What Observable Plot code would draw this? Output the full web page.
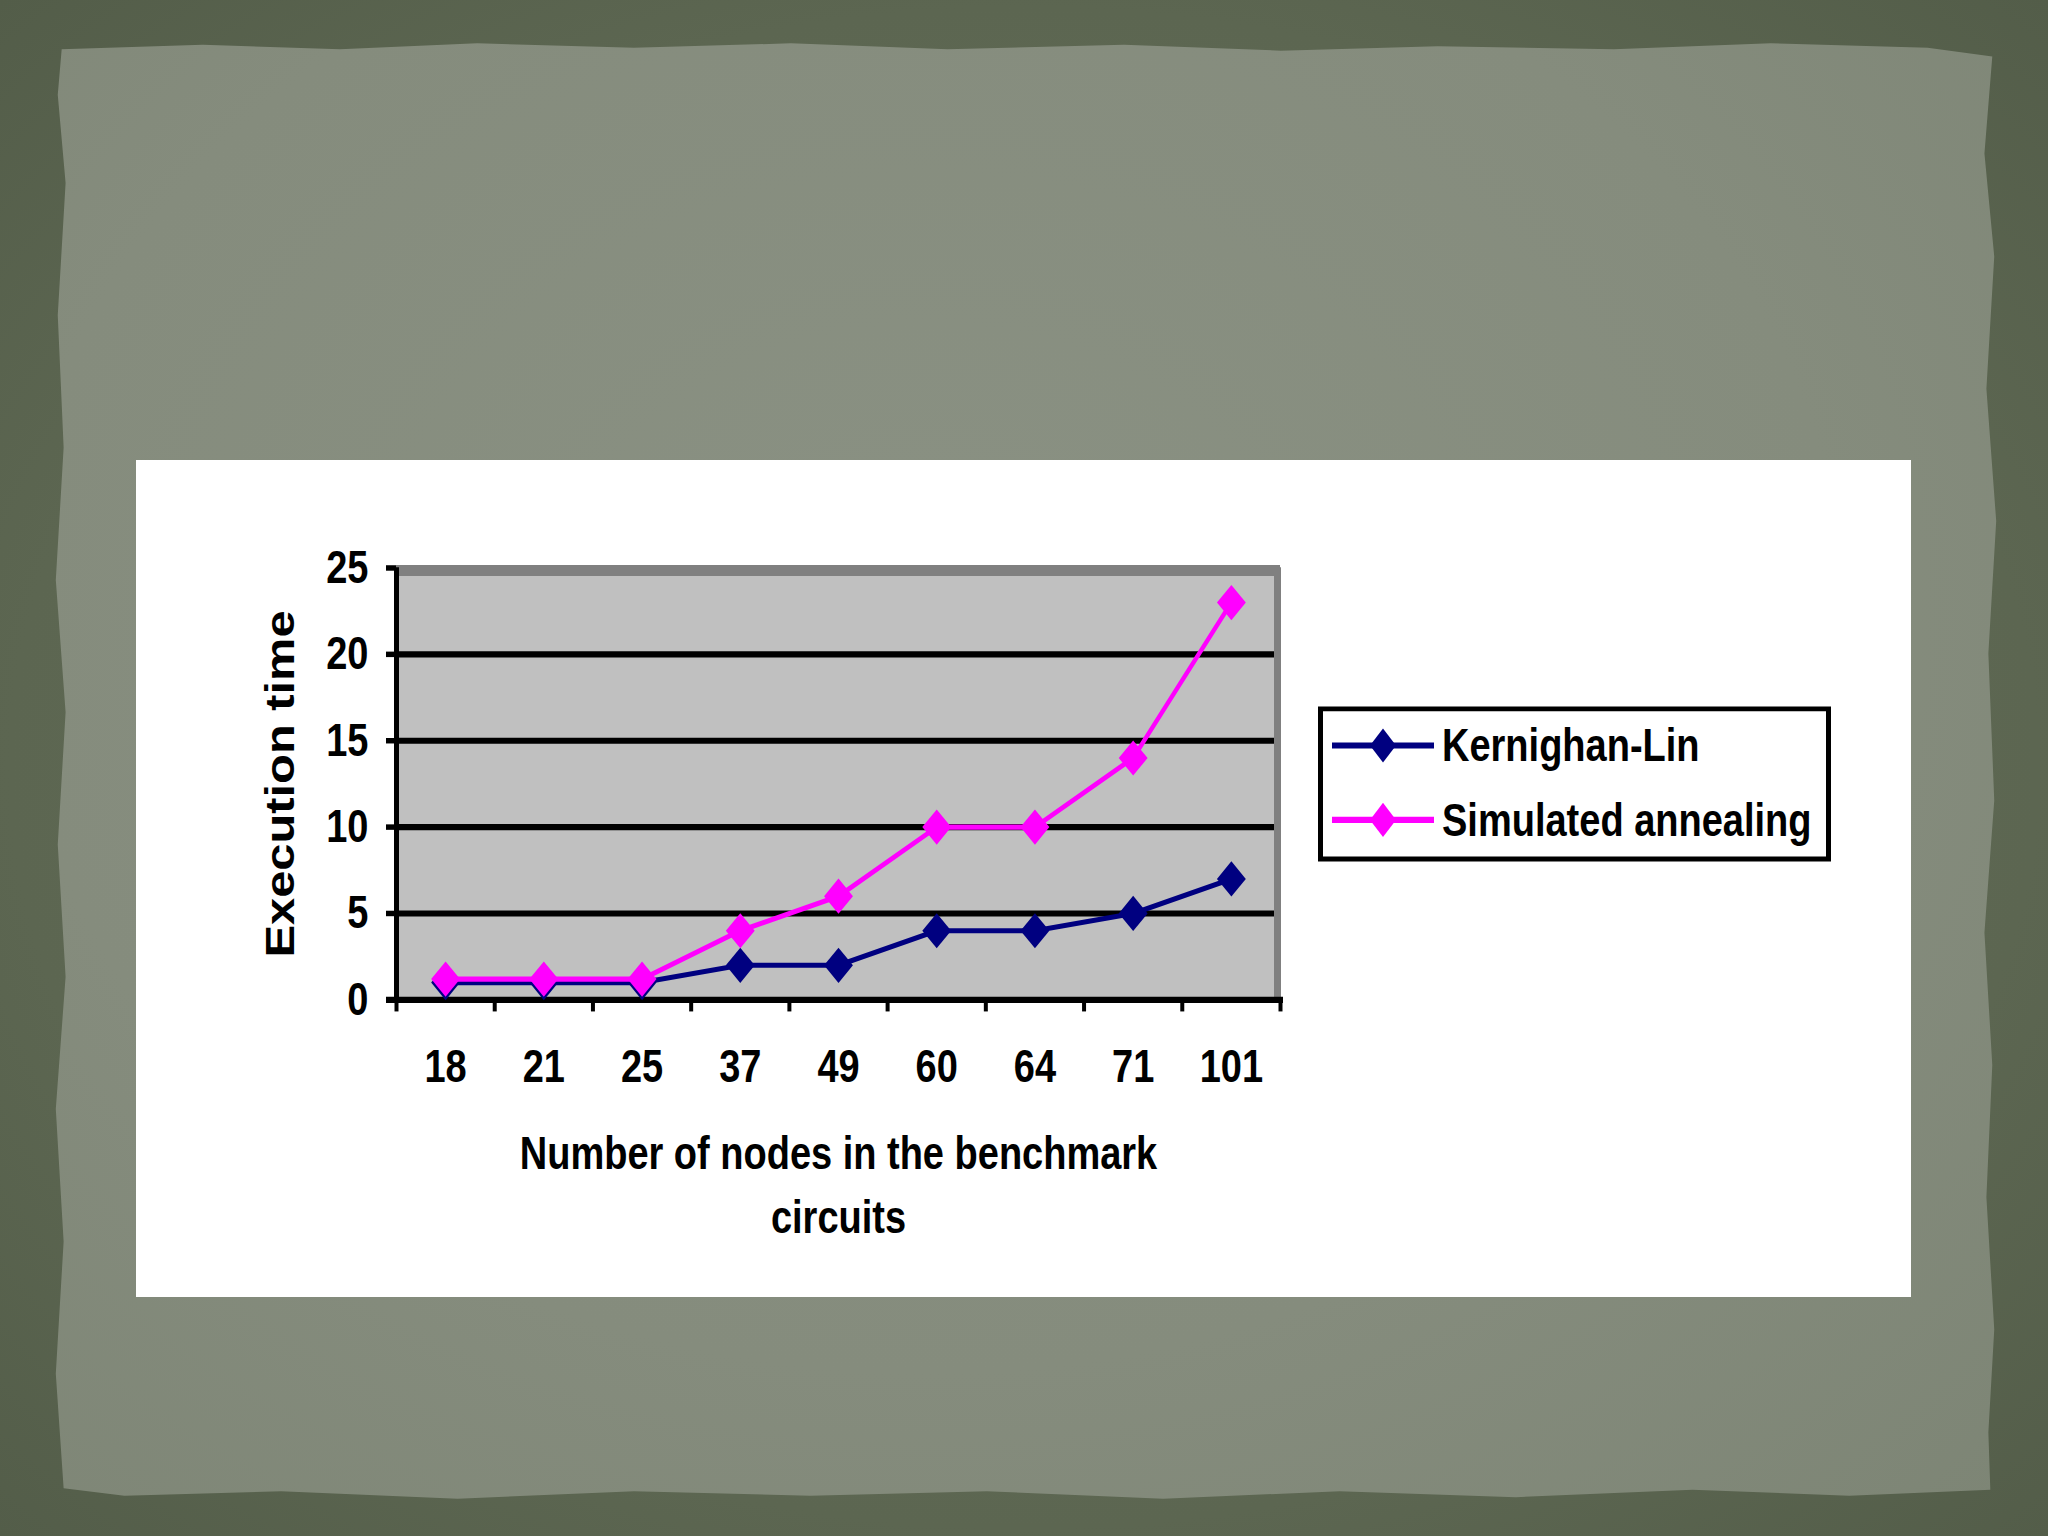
<!DOCTYPE html>
<html>
<head>
<meta charset="utf-8">
<script src="https://cdn.jsdelivr.net/npm/d3@7"></script>
<script src="https://cdn.jsdelivr.net/npm/@observablehq/plot@0.6"></script>
<style>
html, body { margin: 0; padding: 0; }
body { width: 2048px; height: 1536px; position: relative; overflow: hidden;
  background: radial-gradient(ellipse at 50% 50%, #66705a 0%, #5c6651 70%, #535d49 100%); }
#paper { position: absolute; left: 46px; top: 36px; width: 1960px; height: 1470px;
  background: radial-gradient(ellipse at 45% 40%, #8a9183 0%, #858c7d 60%, #7d8575 100%);
  clip-path: polygon(0.8% 0.9%, 8% 0.6%, 15% 0.9%, 22% 0.5%, 30% 0.8%, 38% 0.5%, 46% 0.9%, 55% 0.6%, 63% 1%, 71% 0.7%, 80% 0.9%, 88% 0.5%, 96% 0.8%, 99.3% 1.4%,
    98.9% 8%, 99.4% 15%, 99% 24%, 99.5% 33%, 99.1% 42%, 99.4% 52%, 98.9% 61%, 99.3% 70%, 99% 79%, 99.4% 88%, 99.1% 95%, 99.2% 98.9%,
    92% 99.3%, 84% 98.9%, 75% 99.4%, 66% 99%, 57% 99.5%, 48% 99%, 39% 99.3%, 30% 99%, 21% 99.5%, 12% 99%, 4% 99.3%, 0.9% 98.8%,
    0.5% 91%, 0.9% 82%, 0.5% 73%, 1% 64%, 0.6% 55%, 1% 46%, 0.5% 37%, 0.9% 28%, 0.6% 19%, 1% 10%, 0.6% 4%); }
#panel { position: absolute; left: 136px; top: 460px; width: 1775px; height: 837px; background: #fff; overflow: hidden; }
#stretch { position: absolute; left: 0; top: 0; width: 1775px; height: 686px; transform: scaleY(1.22); transform-origin: 0 0; }
#legend { position: absolute; left: 1182px; top: 202px; width: 513px; height: 127px; box-sizing: border-box;
  border-style: solid; border-color: #000; border-width: 4px 5px; background: #fff; }
.lrow { position: absolute; left: 9px; height: 50px; display: flex; align-items: center; }
.lrow span { margin-left: 8px; font-family: "Liberation Sans Narrow", "Arial Narrow", sans-serif; font-stretch: condensed;
  font-weight: bold; font-size: 38px; color: #000; white-space: nowrap; }
</style>
</head>
<body>
<div id="paper"></div>
<div id="panel"><div id="stretch"><div id="chart"></div><div id="legend"></div></div></div>
<script>
const categories = ["18", "21", "25", "37", "49", "60", "64", "71", "101"];
const kernighanLin = [1, 1, 1, 2, 2, 4, 4, 5, 7];
const simulatedAnnealing = [1.2, 1.2, 1.2, 4, 6, 10, 10, 14, 23];
const yTicks = [0, 5, 10, 15, 20, 25];
const seriesNames = ["Kernighan-Lin", "Simulated annealing"];
const seriesColors = ["#000080", "#ff00ff"];
const xTitle = ["Number of nodes in the benchmark", "circuits"];
const yTitle = "Execution time";

const seriesValues = [kernighanLin, simulatedAnnealing];
const rows = seriesNames.flatMap((s, k) => categories.map((c, i) => ({i, cat: c, series: s, v: seriesValues[k][i]})));
const idx = d3.range(categories.length);
const bounds = d3.range(categories.length + 1).map(i => i - 0.5);
const narrow = '"Liberation Sans Narrow", "Arial Narrow", sans-serif';
const textStyle = {fontSize: 38, fontWeight: "bold", fontFamily: narrow};

const seriesMarks = seriesNames.flatMap(s => [
  Plot.line(rows.filter(d => d.series === s), {x: "i", y: "v", stroke: "series", strokeWidth: 4.2}),
  Plot.dot(rows.filter(d => d.series === s), {x: "i", y: "v", fill: "series", symbol: "diamond2", r: 13, stroke: "none"})
]);

const chart = Plot.plot({
  width: 1775, height: 686,
  marginLeft: 260, marginRight: 631, marginTop: 88, marginBottom: 244,
  style: {background: "transparent", color: "#000", overflow: "visible"},
  x: {type: "linear", domain: [-0.5, categories.length - 0.5], label: null},
  y: {domain: [0, 25], label: null},
  color: {domain: seriesNames, range: seriesColors},
  marks: [
    Plot.frame({fill: "#c0c0c0", stroke: "none"}),
    Plot.ruleY(yTicks.filter(t => t > 0 && t < 25), {stroke: "#000", strokeWidth: 5}),
    Plot.ruleY([25], {stroke: "#808080", strokeWidth: 9, dy: 2}),
    Plot.ruleX([categories.length - 0.5], {y1: 0, y2: 25, stroke: "#808080", strokeWidth: 7, dx: -3}),
    Plot.ruleX([-0.5], {y1: 0, y2: 25, stroke: "#000", strokeWidth: 5}),
    Plot.axisY(yTicks, {tickSize: 10, tickPadding: 18, strokeWidth: 4.5, label: null, ...textStyle}),
    Plot.axisX(bounds, {tickSize: 10, tickFormat: () => "", strokeWidth: 4, label: null}),
    Plot.axisX(idx, {tickSize: 0, tickPadding: 40, tickFormat: i => categories[i], label: null, ...textStyle}),
    Plot.ruleY([0], {stroke: "#000", strokeWidth: 5, insetLeft: -10, insetRight: -3}),
    ...seriesMarks,
    Plot.text([xTitle.join("\n")], {frameAnchor: "bottom", dy: 148, lineAnchor: "middle", lineHeight: 1.38, ...textStyle}),
    Plot.text([yTitle], {frameAnchor: "left", dx: -115, rotate: -90, textAnchor: "middle", lineAnchor: "middle",
      fontSize: 40, fontWeight: "bold", fontFamily: '"Liberation Sans", Arial, sans-serif'})
  ]
});
document.getElementById("chart").appendChild(chart);

// legend
const legend = document.getElementById("legend");
const rowTops = [3, 64];
seriesNames.forEach((s, k) => {
  const row = document.createElement("div");
  row.className = "lrow";
  row.style.top = rowTops[k] + "px";
  const svg = d3.create("svg").attr("width", 102).attr("height", 50);
  svg.append("line").attr("x1", 0).attr("x2", 102).attr("y1", 25).attr("y2", 25)
    .attr("stroke", seriesColors[k]).attr("stroke-width", 5);
  svg.append("path").attr("d", "M51,11L64,25L51,39L38,25Z").attr("fill", seriesColors[k]);
  row.appendChild(svg.node());
  const span = document.createElement("span");
  span.textContent = s;
  row.appendChild(span);
  legend.appendChild(row);
});
</script>
</body>
</html>
